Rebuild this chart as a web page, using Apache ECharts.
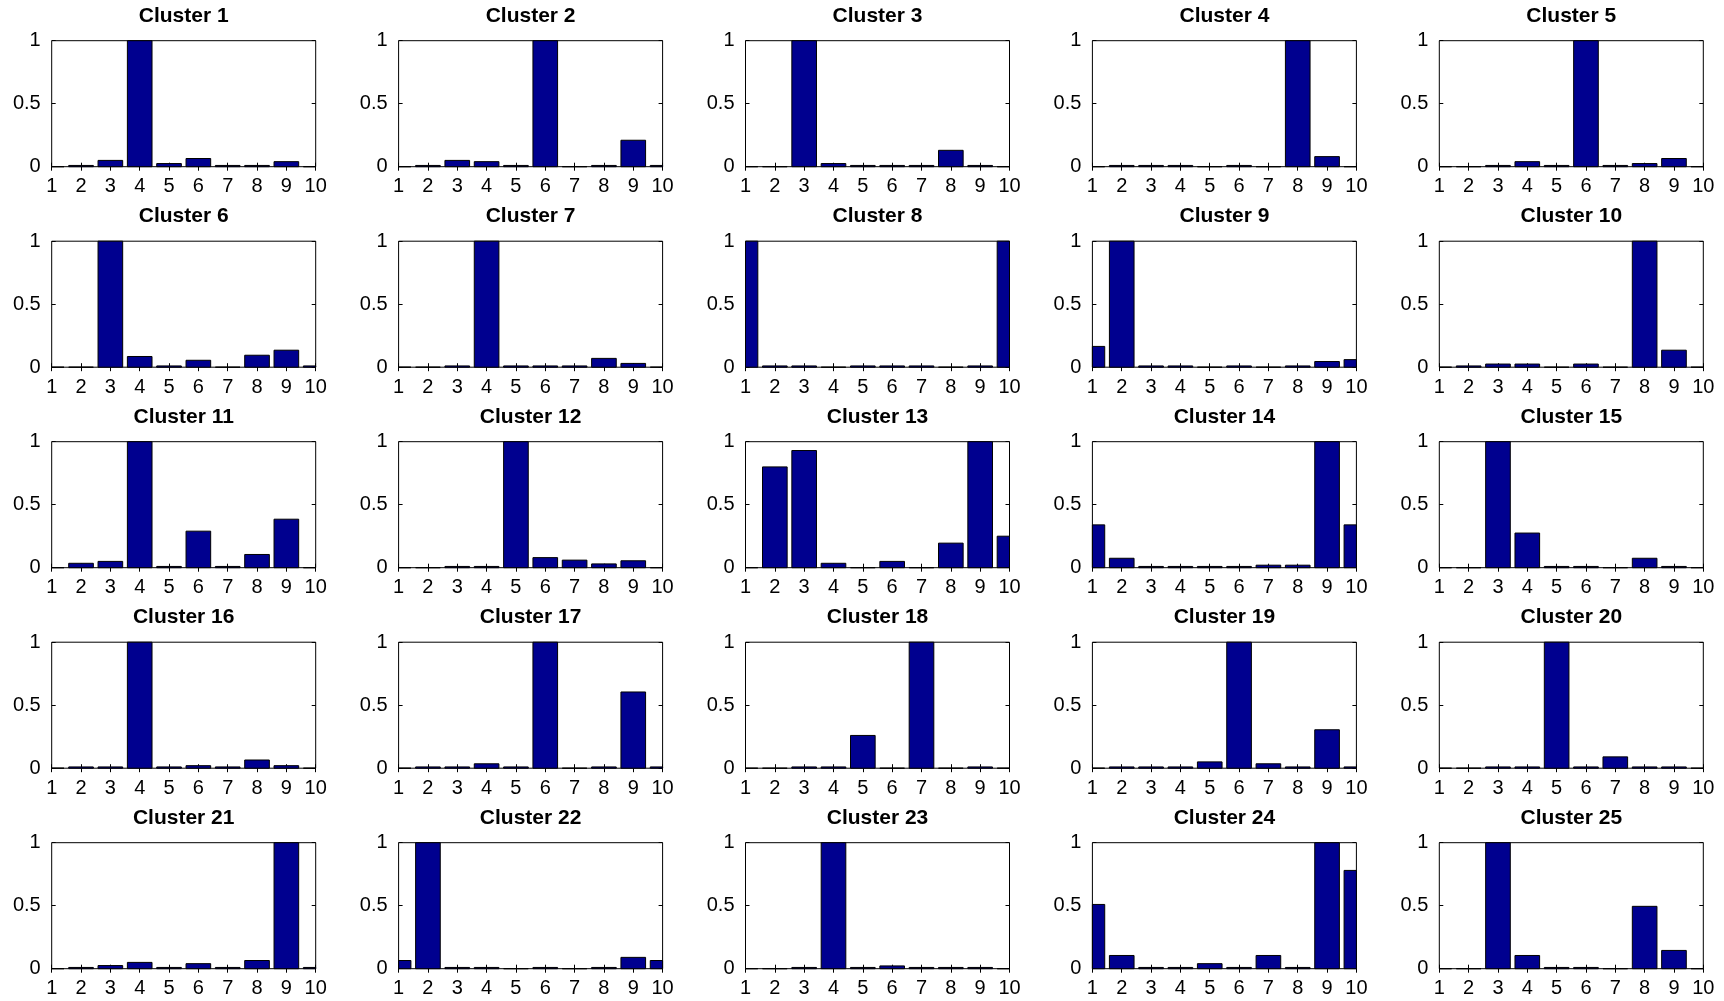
<!DOCTYPE html>
<html>
<head>
<meta charset="utf-8">
<script src="https://cdn.jsdelivr.net/npm/echarts@6/dist/echarts.min.js"></script>
<style>
  html, body { margin: 0; background: #fff; }
  #main { width: 1724px; height: 1001px; }
</style>
</head>
<body>
<div id="main"></div>
<script>
// bar positions 1..10
var xTicks = [1, 2, 3, 4, 5, 6, 7, 8, 9, 10];

// one array per cluster
var cluster1  = [0, 0.01, 0.05, 1, 0.025, 0.065, 0.01, 0.01, 0.04, 0];
var cluster2  = [0, 0.01, 0.05, 0.04, 0.01, 1, 0, 0.01, 0.21, 0.01];
var cluster3  = [0, 0, 1, 0.025, 0.01, 0.01, 0.01, 0.13, 0.01, 0];
var cluster4  = [0, 0.01, 0.01, 0.01, 0, 0.01, 0, 1, 0.08, 0];
var cluster5  = [0, 0, 0.01, 0.04, 0.01, 1, 0.01, 0.025, 0.065, 0];
var cluster6  = [0, 0, 1, 0.085, 0.01, 0.055, 0, 0.095, 0.135, 0.01];
var cluster7  = [0, 0, 0.01, 1, 0.01, 0.01, 0.01, 0.07, 0.03, 0];
var cluster8  = [1, 0.01, 0.01, 0, 0.01, 0.01, 0.01, 0, 0.01, 1];
var cluster9  = [0.165, 1, 0.01, 0.01, 0, 0.01, 0, 0.01, 0.045, 0.06];
var cluster10 = [0, 0.01, 0.025, 0.025, 0, 0.025, 0, 1, 0.135, 0];
var cluster11 = [0, 0.035, 0.05, 1, 0.01, 0.29, 0.01, 0.105, 0.385, 0];
var cluster12 = [0, 0, 0.01, 0.01, 1, 0.08, 0.06, 0.03, 0.055, 0];
var cluster13 = [0, 0.8, 0.93, 0.035, 0, 0.05, 0, 0.195, 1, 0.25];
var cluster14 = [0.34, 0.075, 0.01, 0.01, 0.01, 0.01, 0.02, 0.02, 1, 0.34];
var cluster15 = [0, 0, 1, 0.275, 0.01, 0.01, 0, 0.075, 0.01, 0];
var cluster16 = [0, 0.01, 0.01, 1, 0.01, 0.02, 0.01, 0.065, 0.02, 0];
var cluster17 = [0, 0.01, 0.01, 0.035, 0.01, 1, 0, 0.01, 0.605, 0.01];
var cluster18 = [0, 0, 0.01, 0.01, 0.26, 0, 1, 0, 0.01, 0];
var cluster19 = [0, 0.01, 0.01, 0.01, 0.05, 1, 0.035, 0.01, 0.305, 0.01];
var cluster20 = [0, 0, 0.01, 0.01, 1, 0.01, 0.09, 0.01, 0.01, 0];
var cluster21 = [0, 0.01, 0.025, 0.05, 0.01, 0.04, 0.01, 0.065, 1, 0.01];
var cluster22 = [0.065, 1, 0.01, 0.01, 0, 0.01, 0, 0.01, 0.09, 0.065];
var cluster23 = [0, 0, 0.01, 1, 0.01, 0.022, 0.01, 0.01, 0.01, 0];
var cluster24 = [0.51, 0.105, 0.01, 0.01, 0.04, 0.01, 0.105, 0.01, 1, 0.78];
var cluster25 = [0, 0, 1, 0.105, 0.01, 0.01, 0, 0.495, 0.145, 0];

var clusters = [cluster1, cluster2, cluster3, cluster4, cluster5,
                cluster6, cluster7, cluster8, cluster9, cluster10,
                cluster11, cluster12, cluster13, cluster14, cluster15,
                cluster16, cluster17, cluster18, cluster19, cluster20,
                cluster21, cluster22, cluster23, cluster24, cluster25];
var titles = ['Cluster 1', 'Cluster 2', 'Cluster 3', 'Cluster 4', 'Cluster 5',
              'Cluster 6', 'Cluster 7', 'Cluster 8', 'Cluster 9', 'Cluster 10',
              'Cluster 11', 'Cluster 12', 'Cluster 13', 'Cluster 14', 'Cluster 15',
              'Cluster 16', 'Cluster 17', 'Cluster 18', 'Cluster 19', 'Cluster 20',
              'Cluster 21', 'Cluster 22', 'Cluster 23', 'Cluster 24', 'Cluster 25'];

// panel layout
var colLeft = [51.7, 398.6, 745.5, 1092.4, 1439.3];
var rowTop = [40.7, 241.2, 441.7, 642.2, 842.7];
var plotW = 264, plotH = 126;
var barUnits = 0.84; // bar width in x units, like matlab bar()

var labelFont = {color: '#000', fontSize: 20, fontFamily: "'Liberation Sans Narrow', 'Liberation Sans', Arial, sans-serif"};
var tick = {inside: true, length: 4, lineStyle: {color: '#000', width: 1}};

// bars drawn with the axes' scales and clipped to the plot box (edge bars are cut in half)
function renderBar(params, api) {
  var x = api.value(0), y = api.value(1);
  var base = api.coord([x, 0]);
  var top = api.coord([x, y]);
  var w = api.size([barUnits, 0])[0];
  var cs = params.coordSys;
  var rect = echarts.graphic.clipRectByRect(
    {x: base[0] - w / 2, y: top[1], width: w, height: base[1] - top[1]},
    {x: cs.x, y: cs.y, width: cs.width, height: cs.height}
  );
  if (!rect) return;
  return {
    type: 'rect',
    shape: rect,
    style: {fill: '#00008f', stroke: '#000', lineWidth: 1}
  };
}

var chart = echarts.init(document.getElementById('main'));
var option = {
  backgroundColor: '#fff',
  animation: false,
  title: [], grid: [], xAxis: [], yAxis: [], series: []
};

clusters.forEach(function (vals, i) {
  var r = Math.floor(i / 5), c = i % 5;
  option.grid.push({
    left: colLeft[c], top: rowTop[r], width: plotW, height: plotH,
    show: true, borderColor: '#000', borderWidth: 1, backgroundColor: '#fff',
    containLabel: false, outerBoundsMode: 'none'
  });
  option.title.push({
    text: titles[i],
    left: colLeft[c] + plotW / 2, top: rowTop[r] - 35,
    textAlign: 'center', padding: 0,
    textStyle: {color: '#000', fontSize: 21, fontWeight: 'bold', fontFamily: "'Liberation Sans', Arial, sans-serif"}
  });
  // bottom + top x axes
  option.xAxis.push({
    gridIndex: i, type: 'value', min: 1, max: 10, interval: 1,
    axisLine: {show: false}, splitLine: {show: false}, axisTick: tick,
    axisLabel: Object.assign({margin: 10}, labelFont)
  });
  option.xAxis.push({
    gridIndex: i, type: 'value', position: 'top', min: 1, max: 10, interval: 1,
    axisLine: {show: false}, splitLine: {show: false}, axisTick: tick,
    axisLabel: {show: false}
  });
  // left + right y axes
  option.yAxis.push({
    gridIndex: i, type: 'value', min: 0, max: 1, interval: 0.5,
    axisLine: {show: false}, splitLine: {show: false}, axisTick: tick,
    axisLabel: Object.assign({margin: 11}, labelFont)
  });
  option.yAxis.push({
    gridIndex: i, type: 'value', position: 'right', min: 0, max: 1, interval: 0.5,
    axisLine: {show: false}, splitLine: {show: false}, axisTick: tick,
    axisLabel: {show: false}
  });
  option.series.push({
    type: 'custom',
    xAxisIndex: 2 * i, yAxisIndex: 2 * i,
    renderItem: renderBar,
    encode: {x: 0, y: 1},
    data: vals.map(function (v, k) { return [xTicks[k], v]; })
  });
});

chart.setOption(option);
</script>
</body>
</html>
